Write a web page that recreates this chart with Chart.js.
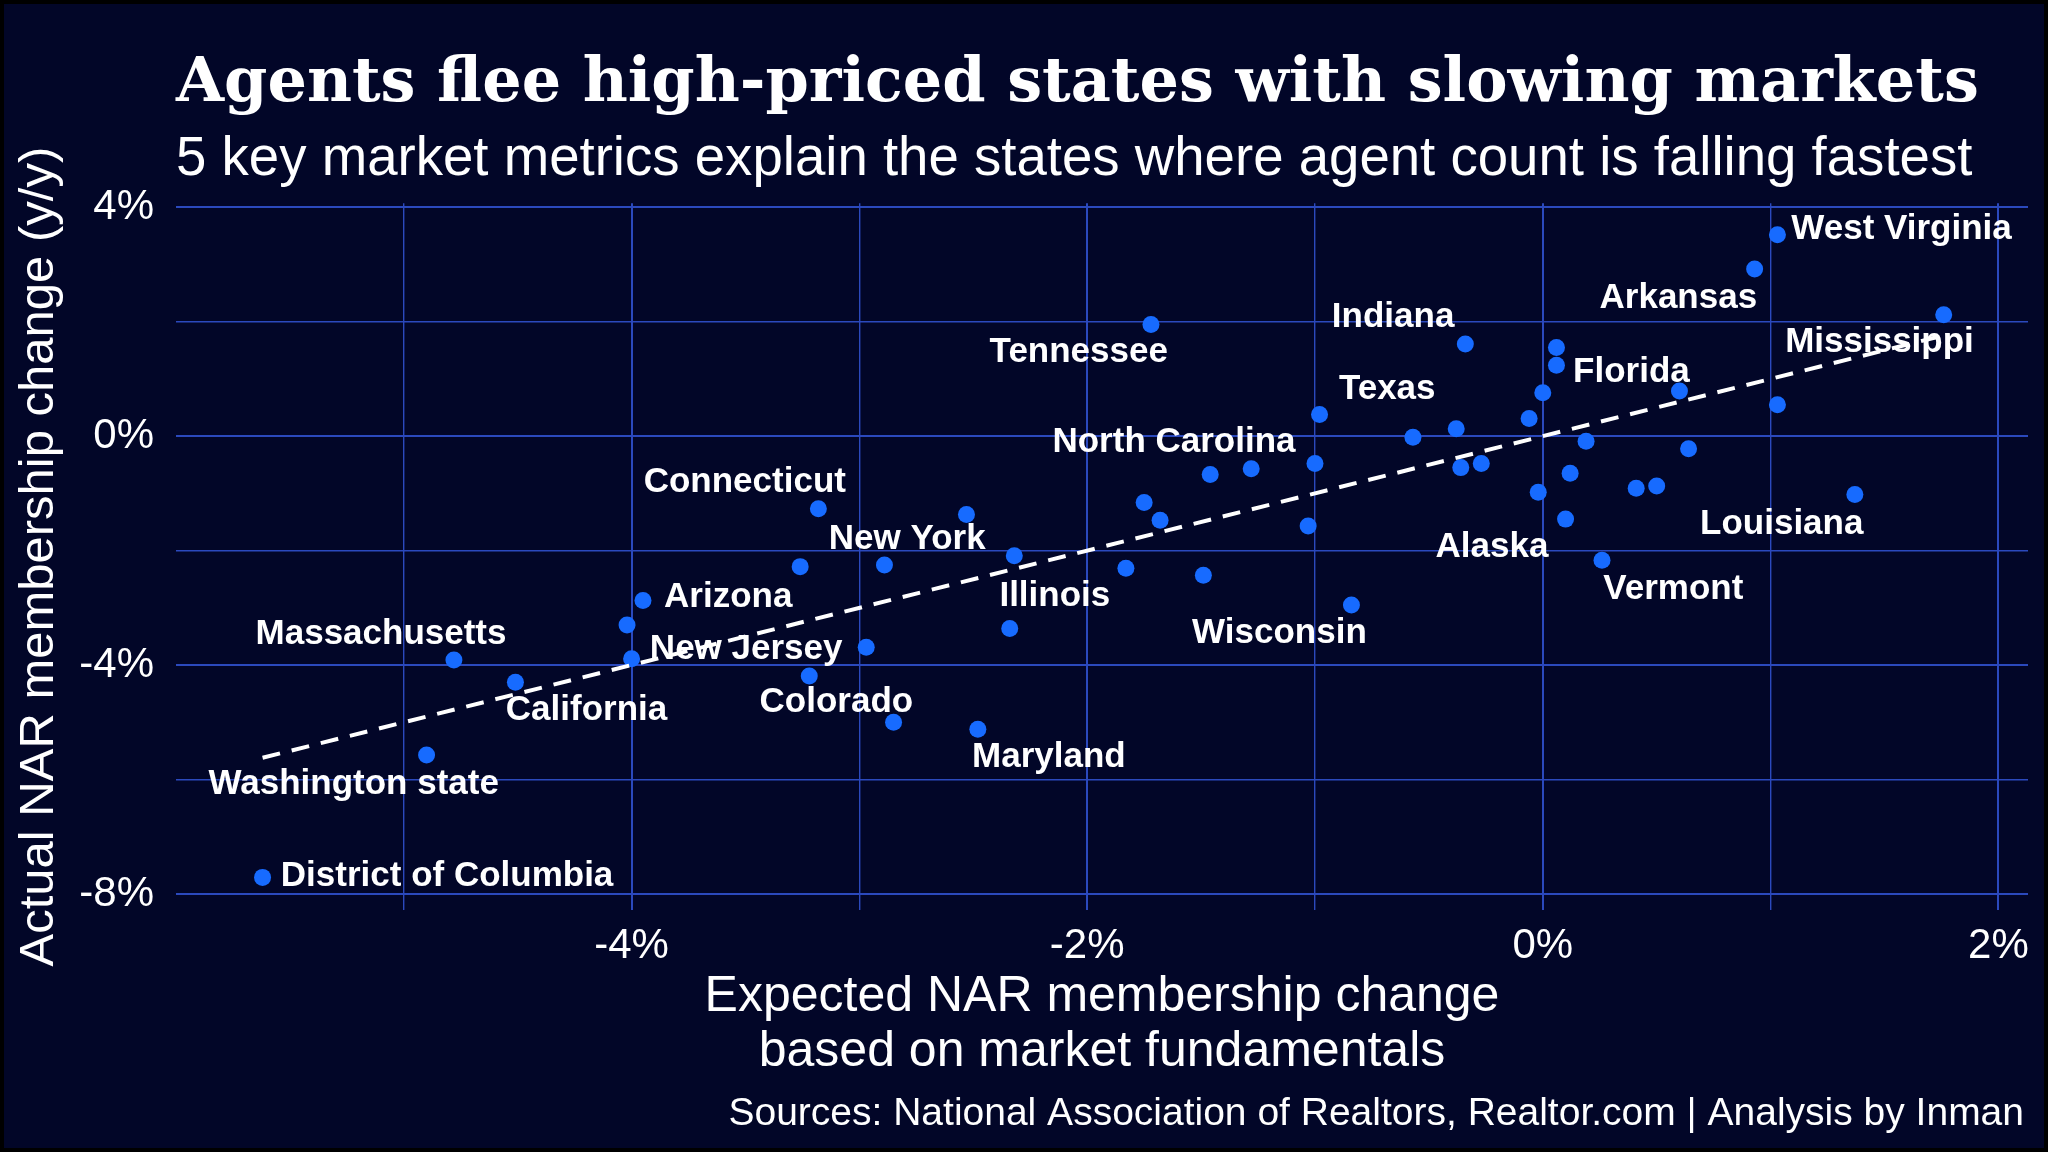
<!DOCTYPE html>
<html>
<head>
<meta charset="utf-8">
<script src="https://cdn.jsdelivr.net/npm/chart.js@4.4.1/dist/chart.umd.min.js"></script>
<style>
  html, body { margin: 0; padding: 0; background: #000; }
</style>
</head>
<body>
<canvas id="chart" width="2048" height="1152"></canvas>
<script>
// one entry per state (plus DC); '' = point without a label
const pointNames = [
  'District of Columbia', 'Washington state', 'Massachusetts', 'California', 'New Jersey',
  '', 'Arizona', '', 'Connecticut', 'Colorado',
  '', 'New York', '', '', 'Maryland',
  '', 'Illinois', '', 'Tennessee', '',
  '', '', 'North Carolina', '', '',
  '', 'Texas', 'Wisconsin', '', '',
  'Indiana', '', '', '', '',
  '', '', 'Florida', 'Alaska', '',
  '', 'Vermont', '', '', '',
  '', 'Arkansas', 'West Virginia', '', 'Louisiana',
  'Mississippi'
];
// expected NAR membership change (%), x axis
const expectedChange = [
  -5.62, -4.90, -4.78, -4.51, -4.00,
  -4.02, -3.95, -3.26, -3.18, -3.22,
  -2.97, -2.89, -2.85, -2.53, -2.48,
  -2.34, -2.32, -1.83, -1.72, -1.75,
  -1.68, -1.49, -1.46, -1.28, -1.03,
  -1.00, -0.98, -0.84, -0.57, -0.38,
  -0.34, -0.36, -0.27, -0.06, -0.02,
  0.00, 0.06, 0.06, 0.10, 0.12,
  0.19, 0.26, 0.41, 0.50, 0.60,
  0.64, 0.93, 1.03, 1.03, 1.37,
  1.76
];
// actual NAR membership change y/y (%), y axis
const actualChange = [
  -7.71, -5.57, -3.91, -4.30, -3.89,
  -3.30, -2.87, -2.28, -1.27, -4.19,
  -3.69, -2.25, -5.00, -1.37, -5.12,
  -3.36, -2.09, -2.31, 1.95, -1.16,
  -1.47, -2.43, -0.67, -0.57, -1.57,
  -0.48, 0.38, -2.95, -0.02, 0.13,
  1.61, -0.55, -0.48, 0.31, -0.98,
  0.76, 1.55, 1.24, -1.45, -0.65,
  -0.09, -2.17, -0.91, -0.87, 0.79,
  -0.22, 2.92, 3.52, 0.55, -1.02,
  2.12
];
// dashed trend line end points
const trendX = [-5.62, 1.76];
const trendY = [-5.62, 1.76];
// labelled ticks
const xTickLabels = [-4, -2, 0, 2];
const yTickLabels = [-8, -4, 0, 4];

const titleText = 'Agents flee high-priced states with slowing markets';
const subtitleText = '5 key market metrics explain the states where agent count is falling fastest';
const sourceText = 'Sources: National Association of Realtors, Realtor.com | Analysis by Inman';

// where each state name sits (data units, text centre)
const labelSpots = {
  'West Virginia': [1.575, 3.61],
  'Arkansas': [0.595, 2.40],
  'Mississippi': [1.478, 1.64],
  'Florida': [0.389, 1.11],
  'Louisiana': [1.049, -1.54],
  'Vermont': [0.573, -2.68],
  'Alaska': [-0.223, -1.94],
  'Indiana': [-0.657, 2.08],
  'Texas': [-0.683, 0.815],
  'Tennessee': [-2.037, 1.46],
  'North Carolina': [-1.619, -0.11],
  'Connecticut': [-3.503, -0.81],
  'New York': [-2.79, -1.80],
  'Illinois': [-2.142, -2.80],
  'Wisconsin': [-1.156, -3.44],
  'Maryland': [-2.168, -5.61],
  'Colorado': [-3.101, -4.65],
  'California': [-4.198, -4.80],
  'New Jersey': [-3.497, -3.72],
  'Arizona': [-3.576, -2.81],
  'Massachusetts': [-5.10, -3.46],
  'Washington state': [-5.22, -6.08],
  'District of Columbia': [-4.81, -7.70]
};

const BG = '#020628';
const GRID = '#2b49bd';
const DOT = '#176bff';
const SANS = "'Liberation Sans', Arial, sans-serif";

const points = expectedChange.map((x, i) => ({ x: x, y: actualChange[i], name: pointNames[i] }));
const trend = trendX.map((x, i) => ({ x: x, y: trendY[i] }));

const background = {
  id: 'background',
  beforeDraw(chart) {
    const ctx = chart.ctx;
    ctx.save();
    ctx.fillStyle = '#000';
    ctx.fillRect(0, 0, chart.width, chart.height);
    ctx.fillStyle = BG;
    ctx.fillRect(4, 4, chart.width - 8, chart.height - 8);
    ctx.restore();
  }
};

const stateLabels = {
  id: 'stateLabels',
  beforeDatasetsDraw(chart) {
    const ctx = chart.ctx;
    const xs = chart.scales.x, ys = chart.scales.y;
    ctx.save();
    ctx.font = 'bold 35px ' + SANS;
    ctx.fillStyle = '#ffffff';
    ctx.textAlign = 'center';
    ctx.textBaseline = 'middle';
    Object.keys(labelSpots).forEach(name => {
      const [lx, ly] = labelSpots[name];
      ctx.fillText(name, xs.getPixelForValue(lx), ys.getPixelForValue(ly));
    });
    ctx.restore();
  }
};

const sourceNote = {
  id: 'sourceNote',
  afterDraw(chart) {
    const ctx = chart.ctx;
    ctx.save();
    ctx.font = '39px ' + SANS;
    ctx.fillStyle = '#ffffff';
    ctx.textAlign = 'right';
    ctx.textBaseline = 'alphabetic';
    ctx.fillText(sourceText, 2024, 1125);
    ctx.restore();
  }
};

new Chart(document.getElementById('chart'), {
  type: 'scatter',
  data: {
    datasets: [
      {
        data: trend,
        showLine: true,
        borderColor: '#ffffff',
        borderWidth: 4,
        borderDash: [18, 12],
        pointRadius: 0,
        order: 0
      },
      {
        data: points,
        backgroundColor: DOT,
        borderWidth: 0,
        pointRadius: 8.5,
        order: 1
      }
    ]
  },
  options: {
    responsive: false,
    animation: false,
    devicePixelRatio: 1,
    layout: { padding: { top: 0, left: 0, right: 20, bottom: 0 } },
    plugins: {
      legend: { display: false },
      tooltip: { enabled: false },
      title: {
        display: true,
        text: titleText,
        align: 'start',
        fullSize: false,
        color: '#ffffff',
        font: { family: "'DejaVu Serif', Georgia, serif", size: 62, weight: 'bold', lineHeight: 1.2 },
        padding: { top: 48, bottom: 4.4 }
      },
      subtitle: {
        display: true,
        text: subtitleText,
        align: 'start',
        fullSize: false,
        color: '#ffffff',
        font: { family: SANS, size: 54.6, lineHeight: 1.2 },
        padding: { top: 0, bottom: 10.9 }
      }
    },
    scales: {
      x: {
        type: 'linear',
        min: -6,
        max: 2.13,
        afterFit(scale) { scale.height = 242; },
        border: { display: false },
        grid: {
          drawTicks: false,
          color: c => c.tick && c.tick.value === -6 ? 'rgba(0,0,0,0)' : GRID,
          lineWidth: c => c.tick && xTickLabels.includes(c.tick.value) ? 2 : 1.4
        },
        ticks: {
          stepSize: 1,
          includeBounds: false,
          autoSkip: false,
          maxRotation: 0,
          padding: 11,
          color: '#ffffff',
          font: { family: SANS, size: 42 },
          callback: v => xTickLabels.includes(v) ? v + '%' : ''
        },
        title: {
          display: true,
          text: ['Expected NAR membership change', 'based on market fundamentals'],
          color: '#ffffff',
          font: { family: SANS, size: 50, lineHeight: 1.1 },
          padding: { top: 0, bottom: 72 }
        }
      },
      y: {
        type: 'linear',
        min: -8.28,
        max: 4.07,
        afterFit(scale) { scale.width = 176; },
        border: { display: false },
        grid: {
          drawTicks: false,
          color: GRID,
          lineWidth: c => c.tick && yTickLabels.includes(c.tick.value) ? 2 : 1.4
        },
        ticks: {
          stepSize: 2,
          includeBounds: false,
          autoSkip: false,
          padding: 22,
          color: '#ffffff',
          font: { family: SANS, size: 42 },
          callback: v => yTickLabels.includes(v) ? v + '%' : ''
        },
        title: {
          display: true,
          text: 'Actual NAR membership change (y/y)',
          color: '#ffffff',
          font: { family: SANS, size: 49, lineHeight: 1.2 },
          padding: { top: 10, bottom: 0 }
        }
      }
    }
  },
  plugins: [background, stateLabels, sourceNote]
});
</script>
</body>
</html>
